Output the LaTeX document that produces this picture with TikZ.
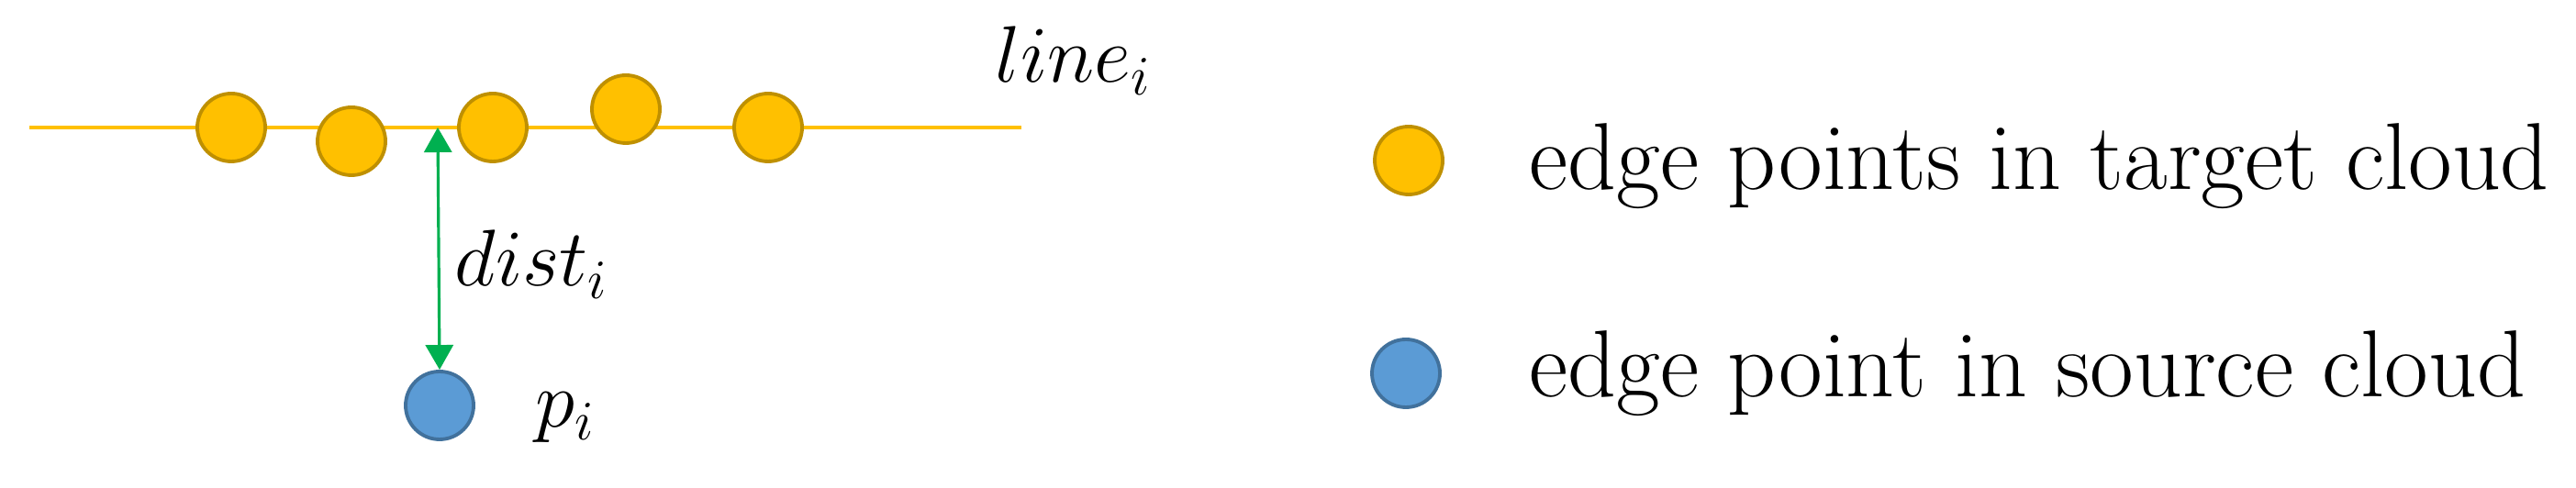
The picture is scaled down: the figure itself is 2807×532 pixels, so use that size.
\documentclass[tikz,border=0pt]{standalone}
\usepackage{amsmath}
\usepackage{xcolor}
\usepackage{tikz}
\usetikzlibrary{arrows.meta,positioning}
\definecolor{gold}{HTML}{FFC000}
\definecolor{golddark}{HTML}{BF9000}
\definecolor{skyblue}{HTML}{5B9BD5}
\definecolor{skybluedark}{HTML}{41719C}
\definecolor{arrowgreen}{HTML}{00B050}
\tikzset{target/.style={draw=golddark, fill=gold, circle, line width=1.1pt,
		inner sep=0pt, minimum size=7.4mm},
	source/.style={draw=skybluedark, fill=skyblue, circle, line width=1.1pt,
		inner sep=0pt, minimum size=7.4mm},
	fitline/.style={draw=gold, line width=1.1pt},
	distarrow/.style={draw=arrowgreen, line width=0.9pt,
		{Triangle[length=2.7mm,width=3mm]}-{Triangle[length=2.7mm,width=3mm]}},
	mathlabel/.style={font=\fontsize{23}{28}\selectfont, inner sep=0pt},
	legendtext/.style={font=\fontsize{29.5}{35}\selectfont, inner sep=0pt}}

\begin{document}
\begin{tikzpicture}[x=0.1mm,y=-0.1mm]
		\useasboundingbox (0,0) rectangle (2807,532);
		% fitted line
		\coordinate (lstart) at (32,139);
		\coordinate (lend) at (1113,139);
		\coordinate (foot) at (477,139);
		\draw [fitline] (lstart)--(lend);
		\node [mathlabel, anchor=base west] (linelabel) at (1084,90) {$line_i$};
		
		% target points
		\node [target] (t1) at (252,139) {};
		\node [target] (t2) at (383,154) {};
		\node [target] (t3) at (537,139) {};
		\node [target] (t4) at (682,119) {};
		\node [target] (t5) at (837,139) {};
		
		% source point
		\node [source] (p) at (479,442) {};
		\node [mathlabel, anchor=base west] (plabel) at (583,466) {$p_i$};
		
		\draw [distarrow] (foot)--(p.north);
		\node [mathlabel, anchor=base west] (distlabel) at (495,312) {$dist_i$};
		
		% legend
		\node [target] (legtarget) at (1535,175) {};
		\node [source] (legsource) at (1532,407) {};
		\node [legendtext, anchor=base west] (legtargettext) at (1666,207) {edge points in target cloud};
		\node [legendtext, anchor=base west] (legsourcetext) at (1666,433) {edge point in source cloud};
	\end{tikzpicture}
\end{document}
